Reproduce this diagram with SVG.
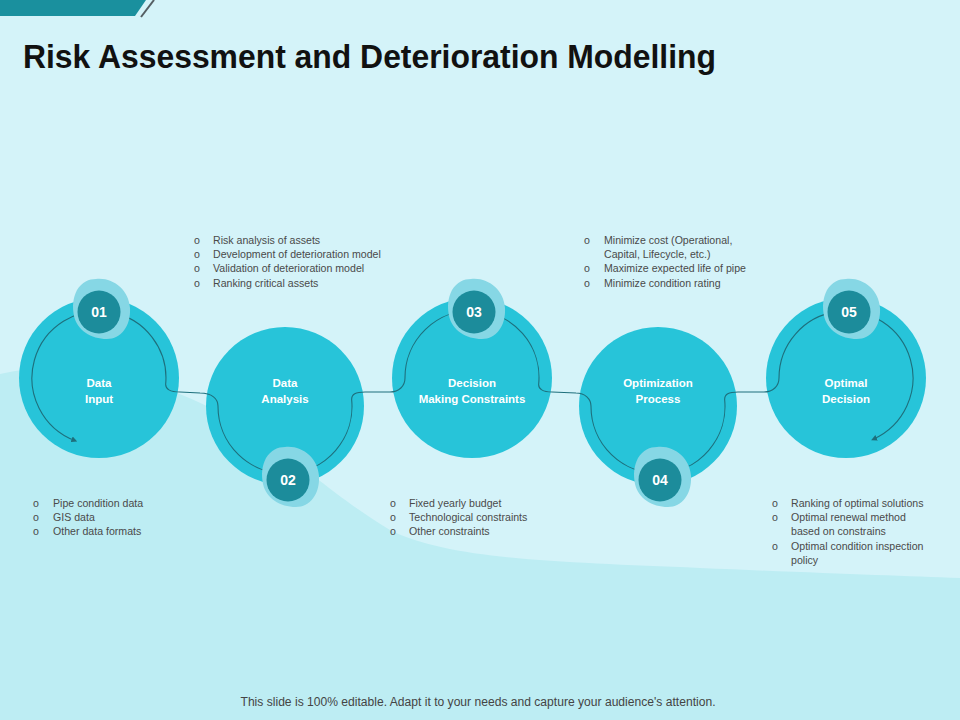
<svg xmlns="http://www.w3.org/2000/svg" width="960" height="720" viewBox="0 0 960 720">
<defs>
<style>
.bg{fill:#d4f3f9}
.wave{fill:#bdedf3}
.main{fill:#27c4d9}
.blob{fill:#86d7e5}
.badge{fill:#1c8c9b}
.num{font-family:"Liberation Sans",Arial,sans-serif;font-weight:bold;font-size:14px;fill:#ffffff;text-anchor:middle}
.lbl{font-family:"Liberation Sans",Arial,sans-serif;font-weight:bold;font-size:11.5px;fill:#ffffff;text-anchor:middle}
.bul{font-family:"Liberation Sans",Arial,sans-serif;font-size:10.6px;fill:#4a4a4a}
.title{font-family:"Liberation Sans",Arial,sans-serif;font-weight:bold;font-size:33px;fill:#111111}
.foot{font-family:"Liberation Sans",Arial,sans-serif;font-size:12px;fill:#444444;text-anchor:middle}
.conn{fill:none;stroke:#1e6f7c;stroke-width:1.1}
</style>
<path id="blobshape" d="M -3,-33 C 14,-35 30,-22 31,-4 C 32,14 22,27 8,27 C -8,27 -22,18 -25,4 C -27,-6 -26,-14 -22,-22 C -17,-30 -10,-33 -3,-33 Z"/>
<marker id="arr" viewBox="0 0 10 10" refX="6" refY="5" markerWidth="6" markerHeight="6" markerUnits="userSpaceOnUse" orient="auto-start-reverse">
<path d="M0,0 L10,5 L0,10 Z" fill="#1e6f7c"/>
</marker>
</defs>

<rect class="bg" x="0" y="0" width="960" height="720"/>
<path class="wave" d="M0,374 C80,355 170,380 250,430 C310,470 340,500 390,530 C450,560 560,562 700,568 C820,573 900,576 960,578 L960,720 L0,720 Z"/>

<g id="banner">
<path d="M0,0 L146,0 L135,16 L0,16 Z" fill="#1a909e"/>
<line x1="154" y1="0" x2="141" y2="17" stroke="#555e63" stroke-width="2"/>
</g>

<text class="title" x="23" y="68" textLength="693" lengthAdjust="spacingAndGlyphs">Risk Assessment and Deterioration Modelling</text>

<g id="node-1">
<circle class="main" cx="99" cy="378" r="80"/>
<text class="lbl" x="99" y="387">Data</text>
<text class="lbl" x="99" y="403">Input</text>
<g class="bul">
<text x="33" y="507">o</text><text x="53" y="507">Pipe condition  data</text>
<text x="33" y="521">o</text><text x="53" y="521">GIS data</text>
<text x="33" y="535">o</text><text x="53" y="535">Other data formats</text>
</g>
</g>

<g id="node-2">
<circle class="main" cx="285" cy="406" r="79"/>
<text class="lbl" x="285" y="387">Data</text>
<text class="lbl" x="285" y="403">Analysis</text>
<g class="bul">
<text x="194" y="244">o</text><text x="213" y="244">Risk analysis  of assets</text>
<text x="194" y="258">o</text><text x="213" y="258">Development of deterioration model</text>
<text x="194" y="272">o</text><text x="213" y="272">Validation of deterioration model</text>
<text x="194" y="287">o</text><text x="213" y="287">Ranking critical  assets</text>
</g>
</g>

<g id="node-3">
<circle class="main" cx="472" cy="378" r="80"/>
<text class="lbl" x="472" y="387">Decision</text>
<text class="lbl" x="472" y="403">Making Constraints</text>
<g class="bul">
<text x="390" y="507">o</text><text x="409" y="507">Fixed yearly  budget</text>
<text x="390" y="521">o</text><text x="409" y="521">Technological  constraints</text>
<text x="390" y="535">o</text><text x="409" y="535">Other constraints</text>
</g>
</g>

<g id="node-4">
<circle class="main" cx="658" cy="406" r="79"/>
<text class="lbl" x="658" y="387">Optimization</text>
<text class="lbl" x="658" y="403">Process</text>
<g class="bul">
<text x="584" y="244">o</text><text x="604" y="244">Minimize  cost (Operational,</text>
<text x="604" y="258">Capital,  Lifecycle,  etc.)</text>
<text x="584" y="272">o</text><text x="604" y="272">Maximize  expected life  of pipe</text>
<text x="584" y="287">o</text><text x="604" y="287">Minimize  condition  rating</text>
</g>
</g>

<g id="node-5">
<circle class="main" cx="846" cy="378" r="80"/>
<text class="lbl" x="846" y="387">Optimal</text>
<text class="lbl" x="846" y="403">Decision</text>
<g class="bul">
<text x="772" y="507">o</text><text x="791" y="507">Ranking of optimal solutions</text>
<text x="772" y="521">o</text><text x="791" y="521">Optimal  renewal method</text>
<text x="791" y="535">based on constrains</text>
<text x="772" y="550">o</text><text x="791" y="550">Optimal  condition  inspection</text>
<text x="791" y="564">policy</text>
</g>
</g>

<g id="connectors">
<path class="conn" marker-start="url(#arr)" marker-end="url(#arr)" d="M75,440.6 A67,67 0 1 1 165.7,383.8 C165.2,389 170,392 180,392 L200,393 C212,393 218,399 218,406 A67,67 0 1 0 351.7,400.2 C351.1,394 356,392 365,392 L390,392 C399,392 405,386 405,378 A67,67 0 1 1 538.7,383.8 C538.1,389 543,392 552,392 L576,393 C585,393 591,399 591,406 A67,67 0 1 0 724.7,400.2 C724.1,394 729,392 738,392 L764,392 C773,392 779,386 779,378 A67,67 0 1 1 873.3,439.2"/>
</g>

<g id="badge-01">
<use href="#blobshape" class="blob" transform="translate(99,312)"/>
<circle class="badge" cx="99" cy="312" r="21.5"/>
<text class="num" x="99" y="317">01</text>
</g>
<g id="badge-02">
<use href="#blobshape" class="blob" transform="translate(288,480)"/>
<circle class="badge" cx="288" cy="480" r="21.5"/>
<text class="num" x="288" y="485">02</text>
</g>
<g id="badge-03">
<use href="#blobshape" class="blob" transform="translate(474,312)"/>
<circle class="badge" cx="474" cy="312" r="21.5"/>
<text class="num" x="474" y="317">03</text>
</g>
<g id="badge-04">
<use href="#blobshape" class="blob" transform="translate(660,480)"/>
<circle class="badge" cx="660" cy="480" r="21.5"/>
<text class="num" x="660" y="485">04</text>
</g>
<g id="badge-05">
<use href="#blobshape" class="blob" transform="translate(849,312)"/>
<circle class="badge" cx="849" cy="312" r="21.5"/>
<text class="num" x="849" y="317">05</text>
</g>

<text class="foot" x="478" y="706" textLength="475" lengthAdjust="spacingAndGlyphs">This slide is 100% editable. Adapt it to your needs and capture your audience's attention.</text>
</svg>
